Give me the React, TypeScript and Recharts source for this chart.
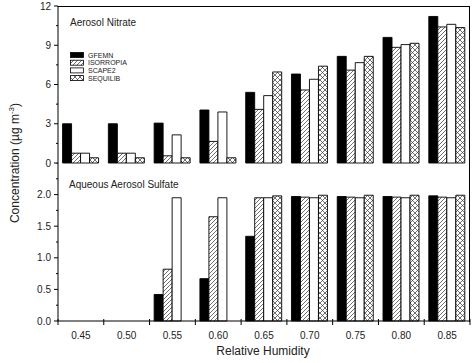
import { BarChart, Bar, XAxis, YAxis } from 'recharts'

// relative humidity categories
const humidity = ['0.45', '0.50', '0.55', '0.60', '0.65', '0.70', '0.75', '0.80', '0.85']

// aerosol nitrate (ug m-3)
const nitrateGFEMN = [3.0, 3.0, 3.05, 4.05, 5.4, 6.8, 8.15, 9.6, 11.2]
const nitrateISORROPIA = [0.75, 0.75, 0.55, 1.65, 4.1, 5.58, 7.1, 8.84, 10.4]
const nitrateSCAPE2 = [0.75, 0.75, 2.15, 3.9, 5.15, 6.4, 7.67, 9.05, 10.6]
const nitrateSEQUILIB = [0.4, 0.4, 0.4, 0.4, 6.96, 7.4, 8.15, 9.15, 10.35]

// aqueous aerosol sulfate (ug m-3)
const sulfateGFEMN = [0, 0, 0.42, 0.67, 1.34, 1.97, 1.97, 1.97, 1.98]
const sulfateISORROPIA = [0, 0, 0.82, 1.65, 1.95, 1.96, 1.96, 1.96, 1.96]
const sulfateSCAPE2 = [0, 0, 1.95, 1.95, 1.95, 1.95, 1.95, 1.95, 1.95]
const sulfateSEQUILIB = [0, 0, 0, 0, 1.98, 1.99, 1.99, 1.99, 1.99]

const nitrateTicks = [0, 1.5, 3, 4.5, 6, 7.5, 9, 10.5, 12]
const nitrateMajor = [0, 3, 6, 9, 12]
const sulfateTicks = [0, 0.25, 0.5, 0.75, 1, 1.25, 1.5, 1.75, 2, 2.25, 2.5]
const sulfateMajor = [0, 0.5, 1, 1.5, 2]

const models = ['GFEMN', 'ISORROPIA', 'SCAPE2', 'SEQUILIB']
const fills: Record<string, string> = {
  GFEMN: '#000',
  ISORROPIA: 'url(#hatchIso)',
  SCAPE2: '#fff',
  SEQUILIB: 'url(#hatchSeq)'
}

const nitrateData = humidity.map((rh, i) => ({
  rh,
  GFEMN: nitrateGFEMN[i],
  ISORROPIA: nitrateISORROPIA[i],
  SCAPE2: nitrateSCAPE2[i],
  SEQUILIB: nitrateSEQUILIB[i]
}))

const sulfateData = humidity.map((rh, i) => ({
  rh,
  GFEMN: sulfateGFEMN[i],
  ISORROPIA: sulfateISORROPIA[i],
  SCAPE2: sulfateSCAPE2[i],
  SEQUILIB: sulfateSEQUILIB[i]
}))

const W = 474
const AXIS_W = 58
const RIGHT = 4
const BAND = (W - AXIS_W - RIGHT) / humidity.length
const font = 'Liberation Sans, Arial, sans-serif'

// y tick: majors get label + longer tick, minors just a short tick
const makeYTick = (majors: number[], fmt: (v: number) => string) => (props: any) => {
  const { y, payload } = props
  const major = majors.some(m => Math.abs(m - payload.value) < 1e-9)
  return (
    <g>
      <line x1={AXIS_W - (major ? 4 : 2)} x2={AXIS_W} y1={y} y2={y} stroke="#000" />
      {major && (
        <text x={AXIS_W - 7} y={y + 3.5} textAnchor="end" fontSize={10} fontFamily={font} fill="#222">
          {fmt(payload.value)}
        </text>
      )}
    </g>
  )
}

const XTick = (props: any) => {
  const { x, payload, index } = props
  const axisY = 158
  return (
    <g>
      <line x1={x - BAND / 2} x2={x - BAND / 2} y1={axisY - 2} y2={axisY + 4} stroke="#000" />
      {index === humidity.length - 1 && (
        <line x1={x + BAND / 2} x2={x + BAND / 2} y1={axisY - 2} y2={axisY + 4} stroke="#000" />
      )}
      <text x={x} y={axisY + 18} textAnchor="middle" fontSize={10} fontFamily={font} fill="#222">
        {payload.value}
      </text>
    </g>
  )
}

const LegendBox = () => (
  <svg width={70} height={34}>
    {models.map((m, i) => (
      <g key={m}>
        <rect x={0.5} y={i * 7.7 + 0.5} width={13} height={5} fill={fills[m]} stroke="#000" strokeWidth={0.8} />
        <text x={18} y={i * 7.7 + 5.5} fontSize={7} fontFamily={font} fill="#222">{m}</text>
      </g>
    ))}
  </svg>
)

const bars = () =>
  models.map(m => (
    <Bar
      key={m}
      dataKey={m}
      fill={fills[m]}
      stroke="#000"
      strokeWidth={0.9}
      isAnimationActive={false}
    />
  ))

export default function App() {
  return (
    <div style={{ position: 'absolute', left: 0, top: 0, width: W, height: 363, background: '#fff', fontFamily: font }}>
      <svg width={0} height={0} style={{ position: 'absolute' }}>
        <defs>
          <pattern id="hatchIso" patternUnits="userSpaceOnUse" width={4} height={4}>
            <rect width={4} height={4} fill="#fff" />
            <path d="M-1,1 L1,-1 M0,4 L4,0 M3,5 L5,3" stroke="#333" strokeWidth={0.7} />
          </pattern>
          <pattern id="hatchSeq" patternUnits="userSpaceOnUse" width={5} height={5}>
            <rect width={5} height={5} fill="#fff" />
            <path d="M-1,1 L1,-1 M0,5 L5,0 M4,6 L6,4 M-1,4 L1,6 M0,0 L5,5 M4,-1 L6,1" stroke="#333" strokeWidth={0.7} />
          </pattern>
        </defs>
      </svg>

      <div style={{ position: 'absolute', left: 0, top: 0 }}>
        <BarChart
          width={W}
          height={170}
          data={nitrateData}
          margin={{ top: 6, right: RIGHT, left: 0, bottom: 7 }}
          barCategoryGap="10%"
          barGap={0}
        >
          <XAxis dataKey="rh" height={0} tick={false} tickLine={false} stroke="#000" />
          <YAxis
            width={AXIS_W}
            domain={[0, 12]}
            ticks={nitrateTicks}
            interval={0}
            tickLine={false}
            tick={makeYTick(nitrateMajor, v => String(v))}
            stroke="#000"
          />
          {bars()}
        </BarChart>
      </div>

      <div style={{ position: 'absolute', left: 0, top: 163 }}>
        <BarChart
          width={W}
          height={200}
          data={sulfateData}
          margin={{ top: 0, right: RIGHT, left: 0, bottom: 0 }}
          barCategoryGap="10%"
          barGap={0}
        >
          <XAxis dataKey="rh" height={42} tickLine={false} interval={0} tick={XTick} stroke="#000" />
          <YAxis
            width={AXIS_W}
            domain={[0, 2.5]}
            ticks={sulfateTicks}
            interval={0}
            tickLine={false}
            tick={makeYTick(sulfateMajor, v => v.toFixed(1))}
            stroke="#000"
          />
          {bars()}
        </BarChart>
      </div>

      {/* plot frame */}
      <div
        style={{
          position: 'absolute',
          left: AXIS_W,
          top: 6,
          width: W - AXIS_W - RIGHT - 1,
          height: 315,
          border: '1px solid #000',
          borderLeft: 'none',
          borderBottom: 'none',
          pointerEvents: 'none'
        }}
      />

      <div style={{ position: 'absolute', left: 70, top: 52 }}>
        <LegendBox />
      </div>

      <div style={{ position: 'absolute', left: 70, top: 17, fontSize: 10, color: '#222' }}>Aerosol Nitrate</div>
      <div style={{ position: 'absolute', left: 69, top: 179, fontSize: 10, color: '#222' }}>Aqueous Aerosol Sulfate</div>

      <svg width={30} height={363} style={{ position: 'absolute', left: 0, top: 0 }}>
        <text transform="translate(19,163) rotate(-90)" textAnchor="middle" fontSize={12} fontFamily={font} fill="#222">
          Concentration (µg m<tspan dy={-5} fontSize={8}>-3</tspan><tspan dy={5}>)</tspan>
        </text>
      </svg>
      <div style={{ position: 'absolute', left: 0, width: W + 52, top: 344, textAlign: 'center', fontSize: 12, color: '#222' }}>
        Relative Humidity
      </div>
    </div>
  )
}
